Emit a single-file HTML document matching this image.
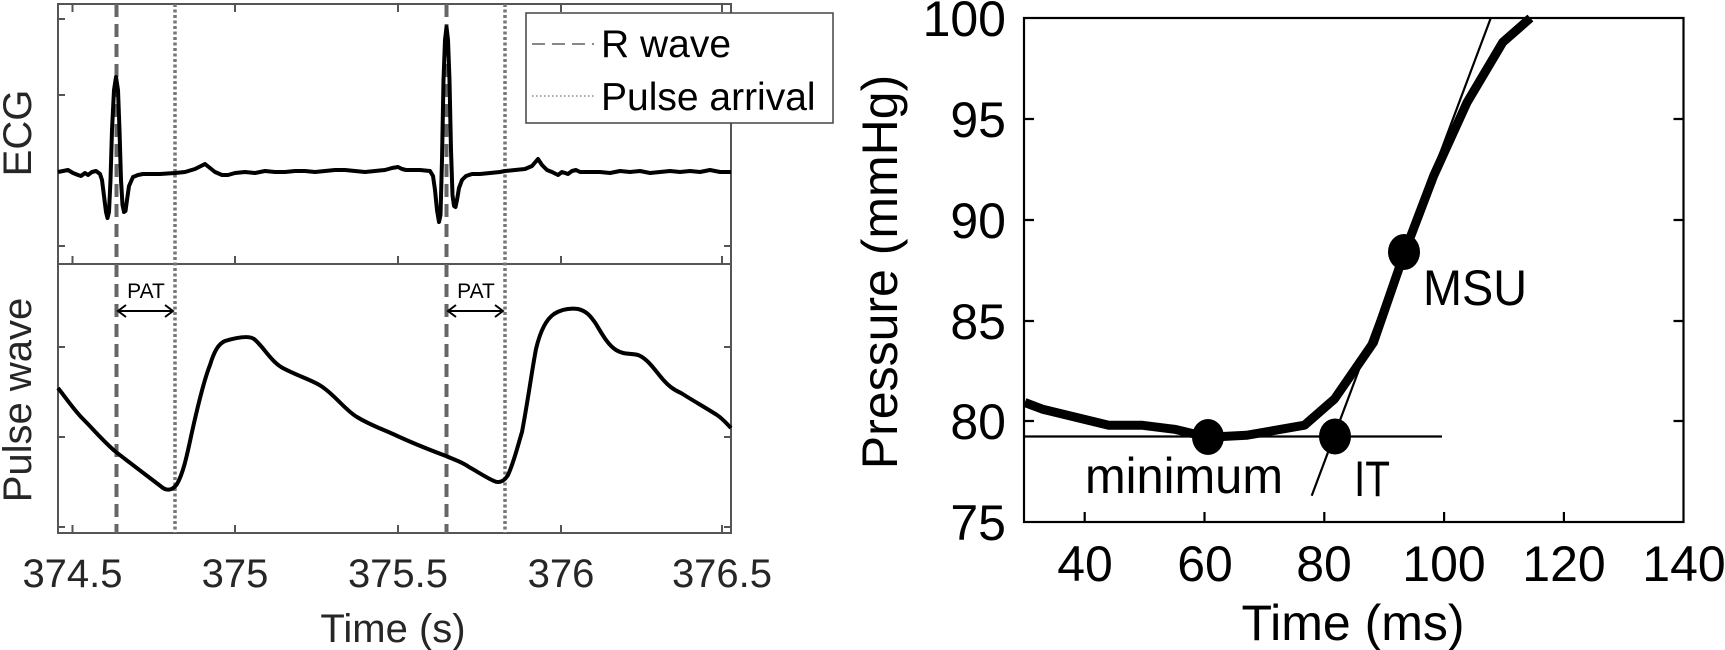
<!DOCTYPE html>
<html><head><meta charset="utf-8"><style>
html,body{margin:0;padding:0;background:#fff;}
svg{display:block;}
text{font-family:"Liberation Sans",sans-serif;}
</style></head><body>
<svg width="1725" height="650" viewBox="0 0 1725 650" xmlns="http://www.w3.org/2000/svg">
<g stroke="#555" stroke-width="2" fill="none">
<rect x="58" y="4" width="673" height="529"/>
<line x1="58" y1="264" x2="731" y2="264"/>
<path d="M72.5 4v8M235 4v8M398 4v8M561 4v8M722 4v8 M72.5 264v-8M235 264v-8M398 264v-8M561 264v-8M722 264v-8 M72.5 533v-8M235 533v-8M398 533v-8M561 533v-8M722 533v-8"/>
<path d="M58 19h7M58 95h7M58 246h7M731 19h-7M731 95h-7M731 246h-7 M58 347h7M58 437h7M58 527h7M731 347h-7M731 437h-7M731 527h-7"/>
</g>
<g stroke="#666" stroke-width="4" stroke-dasharray="13,7">
<line x1="116.5" y1="4" x2="116.5" y2="533"/>
<line x1="446.5" y1="4" x2="446.5" y2="533"/>
</g>
<g stroke="#777" stroke-width="3.5" stroke-dasharray="3,2.5">
<line x1="175" y1="4" x2="175" y2="533"/>
<line x1="505" y1="4" x2="505" y2="533"/>
</g>
<polyline fill="none" stroke="#000" stroke-width="4" stroke-linejoin="round" points="58,172 63,171 68,170 73,173 78,175 81,176 85,173 88,175 92,172 96,171 100,174 102,180 104,196 106,212 107.5,218 109,212 110.5,180 112,130 114,90 116,77 118,90 119.5,130 121,180 122.5,205 124,212 125.5,211 127,200 129,186 133,177 138,175 143,174 150,174 160,174 175,173 185,172 195,169 205,164 210,168 215,172 222,175 228,175 235,173 245,172 255,173 265,171 275,172 285,172 295,171 305,171 315,172 325,171 335,170 345,170 355,171 365,172 375,171 385,170 392,168 398,167 402,169 406,170 412,170 420,170 430,171 433,176 435,190 437,210 439,222 440.5,215 442,160 443.5,80 445,40 446.5,27 448,40 449.5,80 451,150 452.5,195 454,206 455.5,207 457,200 459,188 462,180 466,176 472,174 480,174 490,173 500,172 505,171 515,170 525,169 532,166 538,159 542,165 547,170 552,172 558,175 562,172 568,174 572,171 576,170 580,172 590,172 600,172 610,173 620,171 630,172 640,171 650,173 660,172 670,171 680,172 690,171 700,172 710,170 720,172 731,172"/>
<path fill="none" stroke="#000" stroke-width="4" stroke-linejoin="round" d="M58,388 C66,398 74,410 83,419 C94,430 105,443 116,452 C130,463 150,478 163,488 C168,491 173,490 177,484 C184,472 188,450 192,432 C198,405 204,380 210,365 C214,352 218,344 225,341 C235,338 248,335 254,339 C262,345 270,360 281,367 C295,375 312,380 321,386 C335,395 345,410 357,417 C370,425 382,429 393,434 C410,442 430,450 446,456 C455,460 462,462 469,467 C478,472 487,478 494,481 C500,484 505,480 508,475 C514,462 518,445 522,432 C528,400 532,370 536,349 C541,328 548,318 554,314 C562,309 570,308 578,309 C586,311 590,315 596,324 C602,334 608,345 616,350 C624,355 630,353 638,355 C646,358 652,366 660,376 C668,386 674,390 681,393 C692,400 706,408 717,415 C723,419 728,425 731,428"/>
<g stroke="#000" stroke-width="2" fill="none">
<path d="M118 311H173M126 305L118 311L126 317M165 305L173 311L165 317"/>
<path d="M448 311H503M456 305L448 311L456 317M495 305L503 311L495 317"/>
</g>
<text x="146" y="298" font-size="21" text-anchor="middle" fill="#000">PAT</text>
<text x="476" y="298" font-size="21" text-anchor="middle" fill="#000">PAT</text>
<rect x="526" y="13" width="307" height="110" fill="#fff" stroke="#444" stroke-width="1.5"/>
<line x1="532" y1="44" x2="594" y2="44" stroke="#888" stroke-width="2" stroke-dasharray="13,7"/>
<line x1="532" y1="96" x2="594" y2="96" stroke="#888" stroke-width="1.5" stroke-dasharray="1.5,2.5"/>
<text x="601" y="57" font-size="39" fill="#000">R wave</text>
<text x="601" y="110" font-size="39" fill="#000">Pulse arrival</text>
<g font-size="40" fill="#262626" text-anchor="middle">
<text x="72.5" y="587">374.5</text>
<text x="235" y="587">375</text>
<text x="398" y="587">375.5</text>
<text x="561" y="587">376</text>
<text x="722" y="587">376.5</text>
<text x="393" y="642">Time (s)</text>
<text transform="translate(31,133) rotate(-90)">ECG</text>
<text transform="translate(31,400) rotate(-90)">Pulse wave</text>
</g>
<g stroke="#000" stroke-width="2.2" fill="none">
<rect x="1024" y="18" width="659.5" height="504"/>
<path d="M1084.7 522v-10M1204.5 522v-10M1324.3 522v-10M1444.1 522v-10M1563.9 522v-10"/>
<path d="M1024 119h10M1024 220h10M1024 321h10M1024 421h10M1683.5 119h-10M1683.5 220h-10M1683.5 321h-10M1683.5 421h-10"/>
<line x1="1024" y1="436.5" x2="1442" y2="436.5"/>
<line x1="1311.7" y1="495.8" x2="1490.8" y2="18"/>
</g>
<polyline fill="none" stroke="#000" stroke-width="9" stroke-linejoin="round" points="1024.8,402.5 1042.2,409.1 1108.7,425.2 1141.6,425.2 1174.6,429.3 1208.1,437.3 1246.4,435.3 1304.5,425.2 1334.5,399 1373.4,342.6 1404,253.9 1433.9,175.2 1466.9,102.7 1502.8,42.2 1530.4,18"/>
<g fill="#000">
<ellipse cx="1208" cy="437" rx="16" ry="18"/>
<ellipse cx="1335" cy="436.5" rx="16" ry="18"/>
<ellipse cx="1404" cy="252" rx="16" ry="18"/>
</g>
<g font-size="50" fill="#000">
<g text-anchor="end">
<text x="1006" y="36">100</text>
<text x="1006" y="137">95</text>
<text x="1006" y="238">90</text>
<text x="1006" y="339">85</text>
<text x="1006" y="439">80</text>
<text x="1006" y="540">75</text>
</g>
<g text-anchor="middle">
<text x="1085" y="581">40</text>
<text x="1205" y="581">60</text>
<text x="1324" y="581">80</text>
<text x="1444" y="581">100</text>
<text x="1564" y="581">120</text>
<text x="1684" y="581">140</text>
<text x="1353" y="640">Time (ms)</text>
<text transform="translate(897,272) rotate(-90)">Pressure (mmHg)</text>
</g>
<text x="1085" y="493" textLength="198" lengthAdjust="spacingAndGlyphs">minimum</text>
<text x="1354" y="496" textLength="36" lengthAdjust="spacingAndGlyphs">IT</text>
<text x="1423" y="305" textLength="104" lengthAdjust="spacingAndGlyphs">MSU</text>
</g>
</svg>
</body></html>
